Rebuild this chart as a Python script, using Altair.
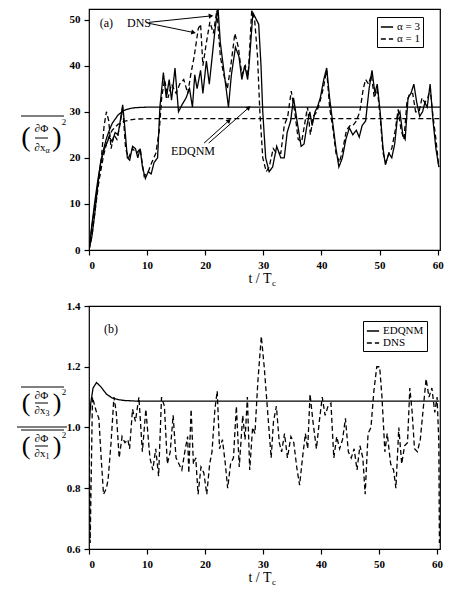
import altair as alt
import pandas as pd

SERIF = "Liberation Serif"

# ---------------- Panel (a) data ----------------
t_dns3 = [0, 0.5, 1, 1.5, 2, 2.5, 3, 3.5, 4, 4.5, 5, 5.5, 5.8, 6.2, 6.6, 7, 7.5, 8, 8.4, 8.8, 9.2, 9.7,
          10.2, 10.7, 11.2, 11.8, 12.2, 12.8, 13.3, 13.8, 14.2, 14.8, 15.4, 16, 16.7, 17.3, 17.8, 18.2,
          18.6, 19.2, 19.6, 20.2, 20.7, 21.2, 21.7, 22.2, 22.6, 23.1, 23.6, 24, 24.5, 25.2, 25.8, 26.3,
          26.8, 27.3, 27.6, 28.2, 28.8, 29.2, 29.6, 29.9, 30.4, 31, 31.6, 32.3, 33, 33.6, 34.1, 34.7,
          35.2, 35.8, 36.5, 37, 37.5, 38, 38.4, 38.9, 39.3, 39.8, 40.4, 40.9, 41.4, 41.9, 42.5, 43, 43.6,
          44.2, 44.8, 45.4, 46, 46.5, 47, 47.6, 48.2, 48.7, 49.2, 49.6, 50.1, 50.6, 51, 51.6, 52.1, 52.6,
          53.1, 53.5, 54, 54.4, 54.9, 55.4, 55.9, 56.4, 56.9, 57.4, 57.8, 58.2, 58.7, 59.2, 59.7, 60.2]
v_dns3 = [0, 3, 8, 14, 19, 21.5, 23, 24.5, 23.5, 25.5, 25, 29, 31.5, 26, 20, 19.5, 22.5, 22, 20, 22, 18, 15.5,
          17, 16.5, 19, 20, 31, 38.5, 33, 37, 32.5, 39.5, 30, 31.5, 33, 35, 31, 38,
          35, 39, 34, 41, 36, 42, 48, 52.5, 45, 40, 35, 31, 38, 44, 42, 37,
          40, 37, 41, 51.5, 50, 49, 40, 30, 20, 17, 18, 22.5, 20, 20, 25.5, 28,
          33, 28, 22.5, 23, 27, 30, 27, 30, 31, 33, 37, 39.5, 33, 28, 22, 18, 20,
          24, 26.5, 25, 26, 24.5, 27, 28, 35, 39, 34, 36, 30, 22, 18.5, 21, 20, 23,
          29, 30, 25, 24, 33, 34, 36, 32, 29, 30, 32, 31, 36, 28, 22, 18]

t_dns1 = [0, 0.5, 1, 1.5, 2, 2.6, 3, 3.4, 3.8, 4.3, 4.8, 5.3, 5.8, 6.3, 6.8, 7.5, 8.2, 8.8, 9.5, 10.2, 10.8,
          11.5, 12.1, 12.5, 13, 13.6, 14.2, 15, 15.6, 16.3, 17, 17.5, 18.1, 18.8, 19.2, 19.6, 20.2, 20.8,
          21.4, 22, 22.6, 23.2, 23.8, 24.4, 25.1, 25.7, 26.3, 26.9, 27.4, 28, 28.5, 29, 29.4, 29.9, 30.5,
          31, 31.7, 32.3, 33, 33.6, 34.2, 34.8, 35.4, 36, 36.6, 37.2, 37.6, 38.1, 38.6, 39.2, 39.7, 40.3,
          40.9, 41.4, 42, 42.5, 43.1, 43.7, 44.3, 44.9, 45.4, 46, 46.6, 47.2, 47.6, 48.1, 48.6, 49.1, 49.6,
          50.1, 50.6, 51.1, 51.6, 52.1, 52.7, 53.2, 53.7, 54.2, 54.7, 55.2, 55.7, 56.2, 56.8, 57.3, 57.8,
          58.3, 58.7, 59.2, 59.7, 60.2]
v_dns1 = [0, 3, 8, 13, 18, 27, 30, 28, 22, 25, 24, 27, 31, 22, 20, 22, 21, 22, 16, 17, 19,
          21, 26, 33, 37, 33, 36, 34, 36, 37, 34, 38, 42, 48, 49, 40, 45, 49.5,
          47, 52, 42, 38, 35, 40, 47, 44, 38, 40, 38, 52, 50, 42, 30, 20, 17,
          18, 22, 21, 21, 27, 29, 34.5, 30, 24, 23.5, 28, 31, 25, 29, 30, 32, 35,
          39, 31, 26, 21, 19, 22, 26, 27, 27, 28, 30, 35, 37, 36, 38, 33, 35,
          29, 21, 19, 21, 22, 26, 30.5, 26, 24, 32, 34, 34, 30, 30, 33, 32,
          33, 35, 29, 24, 18]

t_edq3 = [0, 0.5, 1, 1.5, 2, 2.5, 3, 3.5, 4, 5, 6, 7, 8, 10, 12, 60.4]
v_edq3 = [0, 5.5, 10.5, 15, 18.8, 21.8, 24.2, 26, 27.5, 29.3, 30.3, 30.7, 30.9, 31, 31, 31]
t_edq1 = [0, 0.5, 1, 1.5, 2, 2.5, 3, 3.5, 4, 5, 6, 7, 8, 10, 12, 60.4]
v_edq1 = [0, 5, 9.5, 13.5, 17, 20.5, 23, 24.8, 26, 27.3, 27.9, 28.2, 28.4, 28.5, 28.5, 28.5]

# ---------------- Panel (b) data ----------------
t_dnsb = [0, 0.2, 0.6, 1.0, 1.3, 1.7, 2.1, 2.5, 3, 3.3, 3.8, 4.3, 4.7, 5.2, 5.7, 6.2, 6.7, 7, 7.5, 8, 8.6,
          9.2, 9.8, 10.5, 11, 11.5, 12, 12.5, 13, 13.5, 14, 14.5, 15, 16, 16.6, 17, 17.2, 17.6, 18, 18.4,
          18.8, 19.3, 19.8, 20.3, 20.8, 21.2, 21.7, 22.1, 22.5, 23, 23.5, 23.9, 24.4, 24.9, 25.4, 25.9,
          26.5, 26.9, 27.3, 27.7, 28.2, 28.6, 29.1, 29.7, 30.2, 30.6, 31, 31.4, 31.8, 32.3, 32.8, 33.2,
          33.7, 34.2, 34.8, 35.3, 35.8, 36.3, 36.8, 37.3, 37.7, 38.1, 38.6, 39.2, 39.7, 40.2, 40.7, 41.2,
          41.7, 42.2, 42.7, 43.2, 43.7, 44.2, 44.7, 45.2, 45.7, 46.2, 46.7, 47.2, 47.6, 48.1, 48.6, 49.1,
          49.6, 50.1, 50.5, 51, 51.4, 52, 52.5, 52.9, 53.4, 53.9, 54.4, 54.9, 55.3, 55.7, 56.1, 56.6,
          57.1, 57.6, 58.1, 58.6, 59.1, 59.6, 60, 60.3, 60.4]
v_dnsb = [1.0, 0.62, 1.1, 1.07, 1.05, 1.03, 0.9, 0.78, 0.8, 0.83, 0.95, 1.1, 1.05, 0.9, 0.97, 0.95, 0.96, 0.93, 1.06, 1.02, 1.1,
          0.92, 1.06, 0.9, 0.86, 0.93, 0.84, 1.1, 1.07, 0.88, 0.92, 1.04, 0.9, 0.86, 0.93, 0.97, 0.85, 1.06, 0.88, 0.9,
          0.78, 0.87, 0.85, 0.78, 0.88, 0.92, 1.06, 1.12, 0.93, 0.96, 0.88, 0.8, 0.88, 0.9, 1.07, 0.87,
          1.04, 0.96, 1.1, 0.86, 1.0, 0.98, 1.15, 1.3, 1.2, 1.1, 1.0, 0.9, 1.02, 1.07, 0.95, 0.92,
          0.98, 0.9, 0.97, 0.95, 0.87, 0.81, 0.9, 0.98, 0.93, 1.11, 1.02, 0.93, 1.02, 1.1, 1.04, 1.07,
          1.08, 0.9, 0.97, 0.93, 0.96, 1.03, 0.92, 0.9, 0.93, 0.86, 0.94, 0.9, 0.78, 0.98, 1.0, 1.12,
          1.2, 1.2, 1.1, 0.92, 0.98, 0.88, 0.86, 0.8, 1.0, 0.88, 0.94, 0.95, 1.13, 1.05, 0.93, 0.92,
          0.96, 1.06, 1.16, 1.1, 1.13, 1.05, 1.1, 0.95, 0.62]
t_edqb = [0, 0.3, 0.7, 1.3, 2, 3, 4, 5, 6, 8, 60.4]
v_edqb = [1.0, 1.08, 1.13, 1.148, 1.135, 1.11, 1.097, 1.092, 1.089, 1.087, 1.087]

legend_a = ["α = 3", "α = 1"]
legend_b = ["EDQNM", "DNS"]


def frame(t, v, **cols):
    d = pd.DataFrame({"t": t, "v": v})
    for k, val in cols.items():
        d[k] = val
    return d


df_a = pd.concat([
    frame(t_dns3, v_dns3, model="DNS", alpha=legend_a[0]),
    frame(t_dns1, v_dns1, model="DNS", alpha=legend_a[1]),
    frame(t_edq3, v_edq3, model="EDQNM", alpha=legend_a[0]),
    frame(t_edq1, v_edq1, model="EDQNM", alpha=legend_a[1]),
])
df_b = pd.concat([
    frame(t_edqb, v_edqb, kind=legend_b[0]),
    frame(t_dnsb, v_dnsb, kind=legend_b[1]),
])

DASHES = [[1, 0], [5, 3]]


def axes(domain_y, values_y, fmt, xmax):
    x = alt.X("t:Q", scale=alt.Scale(domain=[0, xmax], nice=False, zero=False),
              axis=alt.Axis(values=[0, 10, 20, 30, 40, 50, 60], title=None, format="d"))
    y = alt.Y("v:Q", scale=alt.Scale(domain=domain_y, nice=False, zero=False),
              axis=alt.Axis(values=values_y, title=None, format=fmt))
    return x, y


def ptext(items):
    layers = []
    for (txt, px, py, fs) in items:
        layers.append(alt.Chart().mark_text(text=txt, font=SERIF, fontSize=fs, color="black",
                                            baseline="middle", align="center")
                      .encode(x=alt.value(px), y=alt.value(py)))
    return layers


def prules(items):
    layers = []
    for (x1, x2, y) in items:
        layers.append(alt.Chart().mark_rule(color="black", strokeWidth=1)
                      .encode(x=alt.value(x1), x2=alt.value(x2), y=alt.value(y)))
    return layers


def dtext(items):
    layers = []
    for (txt, tx, vy, fs) in items:
        layers.append(alt.Chart().mark_text(text=txt, font=SERIF, fontSize=fs, color="black",
                                            baseline="middle", align="center")
                      .encode(x=alt.datum(tx), y=alt.datum(vy)))
    return layers


def arrows(items):
    layers = []
    for (t1, v1, t2, v2, ang) in items:
        layers.append(alt.Chart().mark_rule(color="black", strokeWidth=1)
                      .encode(x=alt.datum(t1), y=alt.datum(v1), x2=alt.datum(t2), y2=alt.datum(v2)))
        layers.append(alt.Chart().mark_point(shape="triangle-up", filled=True, color="black",
                                             size=28, angle=ang, opacity=1)
                      .encode(x=alt.datum(t2), y=alt.datum(v2)))
    return layers


W = 351
HA = 241
HB = 243

# ---------------- Panel (a) ----------------
xa, ya = axes([0, 52.3], [0, 10, 20, 30, 40, 50], "d", 60.4)
lines_a = alt.Chart(df_a).mark_line(color="black", strokeWidth=1.3, clip=True).encode(
    x=xa, y=ya,
    strokeDash=alt.StrokeDash("alpha:N", scale=alt.Scale(domain=legend_a, range=DASHES),
                              legend=alt.Legend(title=None, orient="none", legendX=288, legendY=8)),
    detail="model:N",
)

title_a = (
    prules([(-68, -25, 107), (-54, -41, 129)])
    + ptext([("(", -63, 129, 28), (")", -32, 129, 28), ("∂Φ", -47.5, 120, 11),
             ("∂x", -49, 139, 11), ("α", -41.5, 142, 8), ("2", -25, 113, 9)])
    + ptext([("t / T", 171, 270, 14), ("c", 185, 274, 9)])
)
annot_a = (
    dtext([("(a)", 3.0, 49.3, 12), ("DNS", 8.6, 49.3, 12), ("EDQNM", 17.9, 21.5, 12)])
    + arrows([(10.3, 49.4, 21.0, 50.8, 84), (10.3, 49.2, 18.0, 47.2, 102),
              (19.8, 23.2, 24.1, 28.1, 47), (20.6, 23.2, 27.5, 30.9, 48)])
)
chart_a = alt.layer(lines_a, *title_a, *annot_a).properties(width=W, height=HA)

# ---------------- Panel (b) ----------------
xb, yb = axes([0.6, 1.4], [0.6, 0.8, 1.0, 1.2, 1.4], ".1f", 60.5)
lines_b = alt.Chart(df_b).mark_line(color="black", strokeWidth=1.3, clip=True).encode(
    x=xb, y=yb,
    strokeDash=alt.StrokeDash("kind:N", scale=alt.Scale(domain=legend_b, range=DASHES),
                              legend=alt.Legend(title=None, orient="none", legendX=274, legendY=15)),
)
title_b = (
    prules([(-68, -25, 81), (-54, -41, 97), (-72, -22, 121), (-68, -25, 124), (-54, -41, 140)])
    + ptext([("(", -63, 97, 26), (")", -32, 97, 26), ("∂Φ", -47.5, 90, 11), ("∂x", -49, 105, 11),
             ("3", -41.5, 108, 8), ("2", -25, 86, 9),
             ("(", -63, 140, 26), (")", -32, 140, 26), ("∂Φ", -47.5, 133, 11), ("∂x", -49, 148, 11),
             ("1", -41.5, 151, 8), ("2", -25, 129, 9)])
    + ptext([("t / T", 171, 272, 14), ("c", 185, 276, 9)])
)
annot_b = dtext([("(b)", 3.8, 1.324, 12)])
chart_b = alt.layer(lines_b, *title_b, *annot_b).properties(width=W, height=HB)

chart = (
    alt.vconcat(chart_a, chart_b, spacing=10)
    .resolve_scale(strokeDash="independent", x="independent", y="independent")
    .resolve_legend(strokeDash="independent")
    .properties(padding={"left": 7, "top": 0, "right": 5, "bottom": 0}, background="white")
    .configure_view(stroke="black", strokeWidth=1.2)
    .configure_axis(grid=False, domain=False, tickColor="black", tickSize=5, tickWidth=1.2,
                    labelFont=SERIF, labelFontSize=11, labelColor="black", labelFontWeight="bold",
                    labelPadding=4)
    .configure_legend(strokeColor="black", padding=3, symbolType="stroke", symbolSize=150,
                      symbolStrokeWidth=1.3, symbolStrokeColor="black", labelFont=SERIF,
                      labelFontSize=11, labelColor="black", rowPadding=0, cornerRadius=0,
                      labelOffset=3)
)

chart.save("out.html", embed_options={"renderer": "svg", "actions": False})
